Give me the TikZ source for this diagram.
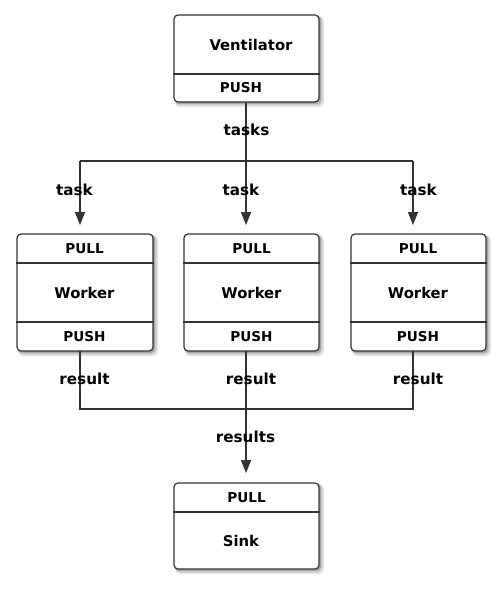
\documentclass[tikz,border=0pt]{standalone}
\usepackage{fontspec}
\setmainfont{DejaVu Sans}
\usetikzlibrary{arrows.meta}
\definecolor{linec}{HTML}{333333}
\tikzset{
  x=1pt, y=-1pt,
  box/.style={draw=linec, line width=1.2pt, rounded corners=4pt, fill=white, inner sep=0pt},
  sockettext/.style={font=\bfseries\fontsize{13.6}{14}\selectfont, text=black, inner sep=0pt},
  nametext/.style={font=\bfseries\fontsize{14.8}{16}\selectfont, text=black, inner sep=0pt},
  edgetext/.style={font=\bfseries\fontsize{15.2}{16}\selectfont, text=black, inner sep=0pt},
  conn/.style={draw=linec, line width=1.2pt},
  arrowconn/.style={conn, -{Triangle[length=13pt,width=10pt]}},
  divider/.style={draw=linec, line width=1.1pt}
}
\newcommand{\shadowbox}[4]{%
  % #1 left, #2 top, #3 right, #4 bottom
  \fill[black!10, rounded corners=5pt] (#1+1,#2+1) rectangle (#3+5,#4+5);
  \fill[black!20, rounded corners=5pt] (#1+1,#2+1) rectangle (#3+3.5,#4+3.5);
  \fill[black!35, rounded corners=4pt] (#1+1,#2+1) rectangle (#3+2,#4+2);
}
\begin{document}
\begin{tikzpicture}
\useasboundingbox[fill=white] (0,0) rectangle (498,591);

% shadows
\shadowbox{174}{15}{319}{102}
\shadowbox{17}{234}{153}{351}
\shadowbox{184}{234}{319}{351}
\shadowbox{351}{234}{486}{351}
\shadowbox{174}{483}{319}{569}

% boxes
\node[box, minimum width=145pt, minimum height=87pt] (vent) at (246.5,58.5) {};
\node[box, minimum width=136pt, minimum height=117pt] (w1) at (85,292.5) {};
\node[box, minimum width=135pt, minimum height=117pt] (w2) at (251.5,292.5) {};
\node[box, minimum width=135pt, minimum height=117pt] (w3) at (418.5,292.5) {};
\node[box, minimum width=145pt, minimum height=86pt] (sink) at (246.5,526) {};

% dividers
\draw[divider] (vent.west |- 0,74) -- (vent.east |- 0,74);
\draw[divider] (w1.west |- 0,263) -- (w1.east |- 0,263);
\draw[divider] (w1.west |- 0,322) -- (w1.east |- 0,322);
\draw[divider] (w2.west |- 0,263) -- (w2.east |- 0,263);
\draw[divider] (w2.west |- 0,322) -- (w2.east |- 0,322);
\draw[divider] (w3.west |- 0,263) -- (w3.east |- 0,263);
\draw[divider] (w3.west |- 0,322) -- (w3.east |- 0,322);
\draw[divider] (sink.west |- 0,512) -- (sink.east |- 0,512);

% box texts
\node[nametext] (ventname) at (251,45) {Ventilator};
\node[sockettext] (ventpush) at (241,88) {PUSH};
\foreach \n/\cx in {w1/84.5, w2/251.5, w3/418}{
  \node[sockettext] (\n pull) at (\cx,248.5) {PULL};
  \node[nametext] (\n name) at (\cx,293) {Worker};
  \node[sockettext] (\n push) at (\cx,336.5) {PUSH};
}
\node[sockettext] (sinkpull) at (246.5,497.5) {PULL};
\node[nametext] (sinkname) at (241,540.5) {Sink};

% connector coordinates
\coordinate (ventout) at (246,102);
\coordinate (tleft) at (80,161);
\coordinate (tright) at (413,161);
\coordinate (w1in) at (80,225);
\coordinate (w2in) at (246,225);
\coordinate (w3in) at (413,225);
\coordinate (w1out) at (80,351);
\coordinate (w2out) at (246,351);
\coordinate (w3out) at (413,351);
\coordinate (rleft) at (80,409);
\coordinate (rright) at (413,409);
\coordinate (sinkin) at (246,473);

% task connectors
\draw[conn] (tleft) -- (tright);
\draw[arrowconn] (ventout) -- (w2in);
\draw[arrowconn] (tleft) -- (w1in);
\draw[arrowconn] (tright) -- (w3in);

% result connectors
\draw[conn] (w1out) -- (rleft) -- (rright) -- (w3out);
\draw[arrowconn] (w2out) -- (sinkin);

% labels
\node[edgetext] (ltasks) at (246.5,130) {tasks};
\node[edgetext] (ltask1) at (74.5,190) {task};
\node[edgetext] (ltask2) at (241,190) {task};
\node[edgetext] (ltask3) at (418.5,190) {task};
\node[edgetext] (lres1) at (84.5,379) {result};
\node[edgetext] (lres2) at (251,379) {result};
\node[edgetext] (lres3) at (418,379) {result};
\node[edgetext] (lresults) at (245.5,437) {results};
\end{tikzpicture}
\end{document}
